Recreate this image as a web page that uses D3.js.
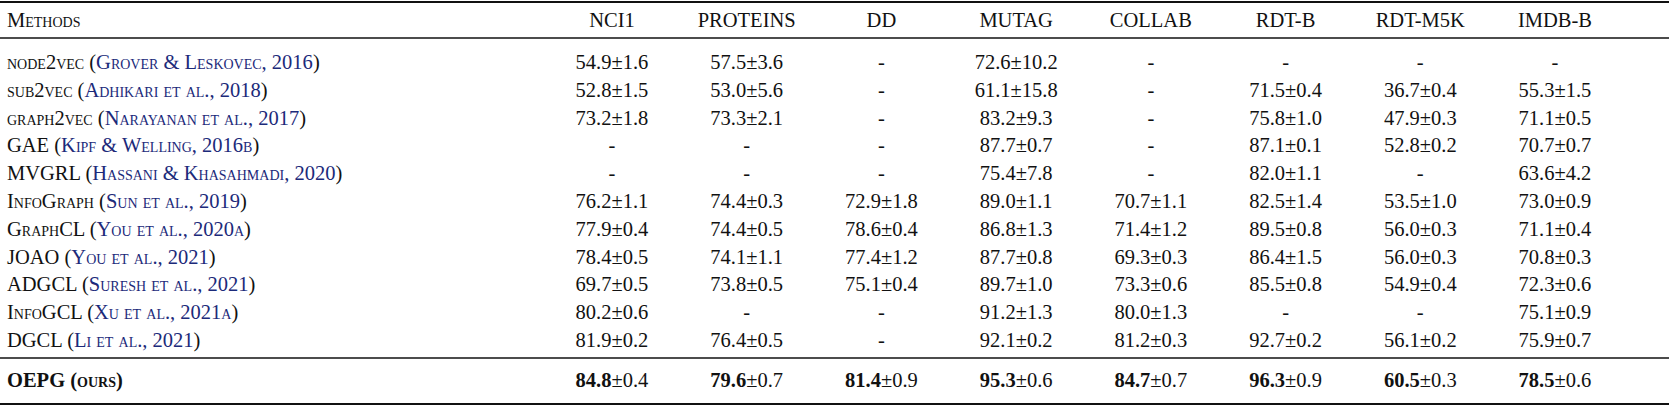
<!DOCTYPE html>
<html><head><meta charset="utf-8">
<script src="https://cdn.jsdelivr.net/npm/d3@7"></script>
<style>
body{margin:0;background:#fff}
text{font-family:"Liberation Serif","Times New Roman",serif;font-size:20.5px;fill:#111}
.sc{font-variant:small-caps}
.cite{fill:#1c2a7a}
</style></head><body>
<svg id="tbl" width="1669" height="412"></svg>
<script>
const columns = ["NCI1","PROTEINS","DD","MUTAG","COLLAB","RDT-B","RDT-M5K","IMDB-B"];
const methodNames = ["node2vec","sub2vec","graph2vec","GAE","MVGRL","InfoGraph","GraphCL","JOAO","ADGCL","InfoGCL","DGCL"];
const methodScaps = [true,true,true,false,false,true,true,false,false,true,false];
const citations = ["Grover & Leskovec, 2016","Adhikari et al., 2018","Narayanan et al., 2017","Kipf & Welling, 2016b",
  "Hassani & Khasahmadi, 2020","Sun et al., 2019","You et al., 2020a","You et al., 2021","Suresh et al., 2021",
  "Xu et al., 2021a","Li et al., 2021"];
const nci1 = ["54.9±1.6","52.8±1.5","73.2±1.8","-","-","76.2±1.1","77.9±0.4","78.4±0.5","69.7±0.5","80.2±0.6","81.9±0.2"];
const proteins = ["57.5±3.6","53.0±5.6","73.3±2.1","-","-","74.4±0.3","74.4±0.5","74.1±1.1","73.8±0.5","-","76.4±0.5"];
const dd = ["-","-","-","-","-","72.9±1.8","78.6±0.4","77.4±1.2","75.1±0.4","-","-"];
const mutag = ["72.6±10.2","61.1±15.8","83.2±9.3","87.7±0.7","75.4±7.8","89.0±1.1","86.8±1.3","87.7±0.8","89.7±1.0","91.2±1.3","92.1±0.2"];
const collab = ["-","-","-","-","-","70.7±1.1","71.4±1.2","69.3±0.3","73.3±0.6","80.0±1.3","81.2±0.3"];
const rdtb = ["-","71.5±0.4","75.8±1.0","87.1±0.1","82.0±1.1","82.5±1.4","89.5±0.8","86.4±1.5","85.5±0.8","-","92.7±0.2"];
const rdtm5k = ["-","36.7±0.4","47.9±0.3","52.8±0.2","-","53.5±1.0","56.0±0.3","56.0±0.3","54.9±0.4","-","56.1±0.2"];
const imdbb = ["-","55.3±1.5","71.1±0.5","70.7±0.7","63.6±4.2","73.0±0.9","71.1±0.4","70.8±0.3","72.3±0.6","75.1±0.9","75.9±0.7"];
const oursName = "OEPG";
const oursValues = ["84.8±0.4","79.6±0.7","81.4±0.9","95.3±0.6","84.7±0.7","96.3±0.9","60.5±0.3","78.5±0.6"];

const colData = [nci1, proteins, dd, mutag, collab, rdtb, rdtm5k, imdbb];
const svg = d3.select("#tbl");
const W = +svg.attr("width");

const x = d3.scalePoint().domain(columns).range([612, 1555]);
const y = d3.scaleLinear().domain([0, 10]).range([62, 340]);
const headerY = 20, oursY = 380;

function rule(yy, w) {
  svg.append("line").attr("x1", 0).attr("x2", W).attr("y1", yy).attr("y2", yy)
     .attr("stroke", "#111").attr("stroke-width", w);
}
rule(2, 2.2); rule(38, 1.4); rule(358, 1.4); rule(404, 2.2);

svg.append("text").attr("class", "sc").attr("x", 7).attr("y", headerY)
   .attr("dominant-baseline", "central").text("Methods");
svg.selectAll("text.col").data(columns).join("text").attr("class", "col")
   .attr("x", d => x(d)).attr("y", headerY).attr("text-anchor", "middle")
   .attr("dominant-baseline", "central").text(d => d);

methodNames.forEach((m, i) => {
  const t = svg.append("text").attr("x", 7).attr("y", y(i)).attr("dominant-baseline", "central");
  t.append("tspan").attr("class", methodScaps[i] ? "sc" : null).text(m + " (");
  t.append("tspan").attr("class", "sc cite").text(citations[i]);
  t.append("tspan").text(")");
});

colData.forEach((vals, c) => {
  svg.selectAll("text.v" + c).data(vals).join("text").attr("class", "v" + c)
     .attr("x", x(columns[c])).attr("y", (d, i) => y(i))
     .attr("text-anchor", "middle").attr("dominant-baseline", "central").text(d => d);
});

const o = svg.append("text").attr("x", 7).attr("y", oursY).attr("dominant-baseline", "central");
o.append("tspan").attr("font-weight", "bold").text(oursName + " ");
o.append("tspan").attr("class", "sc").attr("font-weight", "bold").text("(ours)");

oursValues.forEach((v, c) => {
  const [a, b] = v.split("±");
  const t = svg.append("text").attr("x", x(columns[c])).attr("y", oursY)
     .attr("text-anchor", "middle").attr("dominant-baseline", "central");
  t.append("tspan").attr("font-weight", "bold").text(a);
  t.append("tspan").text("±" + b);
});
</script></body></html>
